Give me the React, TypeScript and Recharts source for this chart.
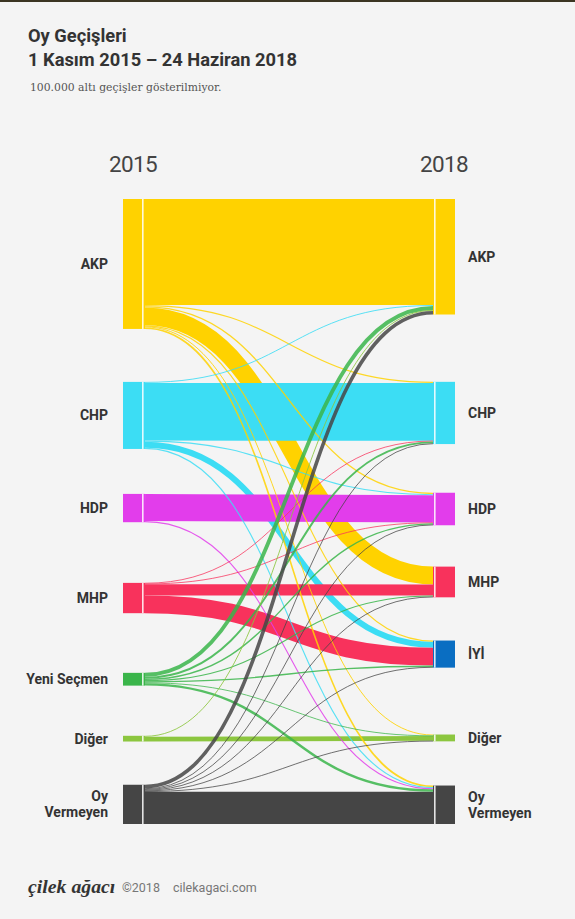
import { Sankey } from "recharts";

// 2015 (left) and 2018 (right) columns
const parties2015 = ["AKP", "CHP", "HDP", "MHP", "Yeni Seçmen", "Diğer", "Oy Vermeyen"];
const parties2018 = ["AKP", "CHP", "HDP", "MHP", "İYİ", "Diğer", "Oy Vermeyen"];

// flows in thousands of voters, one row per 2015 party, columns in 2018 order
const fromAKP = [19100, 200, 250, 3200, 200, 180, 280];
const fromCHP = [180, 10400, 200, 0, 1100, 0, 200];
const fromHDP = [0, 0, 4900, 0, 0, 0, 200];
const fromMHP = [0, 130, 130, 2000, 3200, 0, 0];
const fromYeni = [700, 350, 250, 200, 250, 100, 450];
const fromDiger = [180, 0, 0, 0, 0, 850, 0];
const fromOyVermeyen = [650, 130, 130, 130, 130, 100, 5800];
const flowRows = [fromAKP, fromCHP, fromHDP, fromMHP, fromYeni, fromDiger, fromOyVermeyen];

// hidden spacer values between the bars of each column (same unit)
const spacing2015 = [9540, 8100, 10930, 10750, 9040, 7790];
const spacing2018 = [12130, 8770, 7450, 7790, 12050, 7960];

const colors2015 = ["#FFD200", "#3CDDF4", "#E23DEB", "#F8325C", "#3AB54A", "#8CC63F", "#454545"];
const colors2018 = ["#FFD200", "#3CDDF4", "#E23DEB", "#F8325C", "#0A6EC2", "#8CC63F", "#454545"];

type N = { name: string; side?: "L" | "R"; color?: string; spacer?: boolean };

const nodes: N[] = [];
const leftIdx: number[] = [];
const rightIdx: number[] = [];
const leftSpacers: number[] = [];
const rightSpacers: number[] = [];

parties2015.forEach((p, i) => {
  leftIdx.push(nodes.length);
  nodes.push({ name: p, side: "L", color: colors2015[i] });
  if (i < spacing2015.length) {
    leftSpacers.push(nodes.length);
    nodes.push({ name: "", spacer: true });
  }
});
parties2018.forEach((p, i) => {
  rightIdx.push(nodes.length);
  nodes.push({ name: p, side: "R", color: colors2018[i] });
  if (i < spacing2018.length) {
    rightSpacers.push(nodes.length);
    nodes.push({ name: "", spacer: true });
  }
});

type L = { source: number; target: number; value: number; color?: string; spacer?: boolean };

const realLinks: L[] = [];
flowRows.forEach((row, i) =>
  row.forEach((v, j) => {
    if (v > 0)
      realLinks.push({ source: leftIdx[i], target: rightIdx[j], value: v, color: colors2015[i] });
  })
);
realLinks.sort((a, b) => (a.value >= 800 ? 0 : 1) - (b.value >= 800 ? 0 : 1));

// pair the spacers so both columns get their own gaps
const spacerLinks: L[] = [];
{
  const a = [...spacing2015];
  const b = [...spacing2018];
  let i = 0;
  let j = 0;
  while (i < a.length && j < b.length) {
    const v = Math.min(a[i], b[j]);
    if (v > 0)
      spacerLinks.push({ source: leftSpacers[i], target: rightSpacers[j], value: v, spacer: true });
    a[i] -= v;
    b[j] -= v;
    if (a[i] <= 0) i++;
    if (b[j] <= 0) j++;
  }
}

const data = { nodes, links: [...spacerLinks, ...realLinks] };

const labelStyle = {
  fontFamily: "Roboto, 'Noto Sans', sans-serif",
  fontWeight: 700,
  fontSize: 14,
  fill: "#333",
};

function SankeyNode(props: any) {
  const { x, y, width, height, payload } = props;
  if (payload.spacer) return <g />;
  const left = payload.side === "L";
  const cy = y + height / 2;
  const words = payload.name === "Oy Vermeyen" ? ["Oy", "Vermeyen"] : [payload.name];
  const lx = left ? x - 15 : x + width + 13;
  return (
    <g>
      <rect x={x} y={y} width={width} height={height} fill={payload.color} />
      <rect
        x={left ? x + width - 3 : x + 1}
        y={y}
        width={1.6}
        height={height}
        fill="#ffffff"
        opacity={0.85}
      />
      <text x={lx} y={cy} textAnchor={left ? "end" : "start"} style={labelStyle}>
        {words.map((w, k) => (
          <tspan
            key={w}
            x={lx}
            dy={words.length === 1 ? 5 : k === 0 ? -3 : 16}
          >
            {w}
          </tspan>
        ))}
      </text>
    </g>
  );
}

function SankeyLink(props: any) {
  const { sourceX, targetX, sourceY, targetY, sourceControlX, targetControlX, linkWidth, payload } = props;
  if (payload.spacer) return <g />;
  return (
    <path
      d={`M${sourceX},${sourceY} C${sourceControlX},${sourceY} ${targetControlX},${targetY} ${targetX},${targetY}`}
      fill="none"
      stroke={payload.color}
      strokeWidth={Math.max(linkWidth, 0.9)}
      strokeOpacity={payload.value >= 800 ? 1 : 0.85}
    />
  );
}

export default function App() {
  return (
    <div
      style={{
        position: "absolute",
        left: 0,
        top: 0,
        width: 575,
        height: 919,
        background: "#F4F4F4",
        borderTop: "2px solid #3B3522",
        boxSizing: "border-box",
        overflow: "hidden",
      }}
    >
      <svg
        width={575}
        height={919}
        style={{ position: "absolute", left: 0, top: -2 }}
      >
        <text x={28} y={42} style={{ fontFamily: "Roboto, sans-serif", fontWeight: 700, fontSize: 18.3, fill: "#333" }}>
          Oy Geçişleri
        </text>
        <text x={28} y={66} style={{ fontFamily: "Roboto, sans-serif", fontWeight: 700, fontSize: 18.3, fill: "#333" }}>
          1 Kasım 2015 – 24 Haziran 2018
        </text>
        <text x={30} y={91} style={{ fontFamily: "'DejaVu Serif', serif", fontSize: 10.8, fill: "#555" }}>
          100.000 altı geçişler gösterilmiyor.
        </text>
        <text x={133} y={172} textAnchor="middle" style={{ fontFamily: "Roboto, sans-serif", fontSize: 22.5, fill: "#444", letterSpacing: -0.6 }}>
          2015
        </text>
        <text x={444} y={172} textAnchor="middle" style={{ fontFamily: "Roboto, sans-serif", fontSize: 22.5, fill: "#444", letterSpacing: -0.6 }}>
          2018
        </text>
        <text x={28} y={893} style={{ fontFamily: "'Liberation Serif', serif", fontStyle: "italic", fontWeight: 700, fontSize: 19.8, fill: "#333" }}>
          çilek ağacı
        </text>
        <text x={122} y={892} style={{ fontFamily: "Roboto, sans-serif", fontSize: 12.5, fill: "#777" }}>
          ©2018
        </text>
        <text x={173} y={892} style={{ fontFamily: "Roboto, sans-serif", fontSize: 12.5, fill: "#777" }}>
          cilekagaci.com
        </text>
      </svg>
      <div style={{ position: "absolute", left: 0, top: -2 }}>
        <Sankey
          width={575}
          height={919}
          data={data}
          margin={{ top: 199, bottom: 95, left: 123, right: 120 }}
          nodeWidth={22}
          nodePadding={0}
          iterations={0}
          linkCurvature={0.5}
          node={SankeyNode}
          link={SankeyLink}
        />
      </div>
    </div>
  );
}
